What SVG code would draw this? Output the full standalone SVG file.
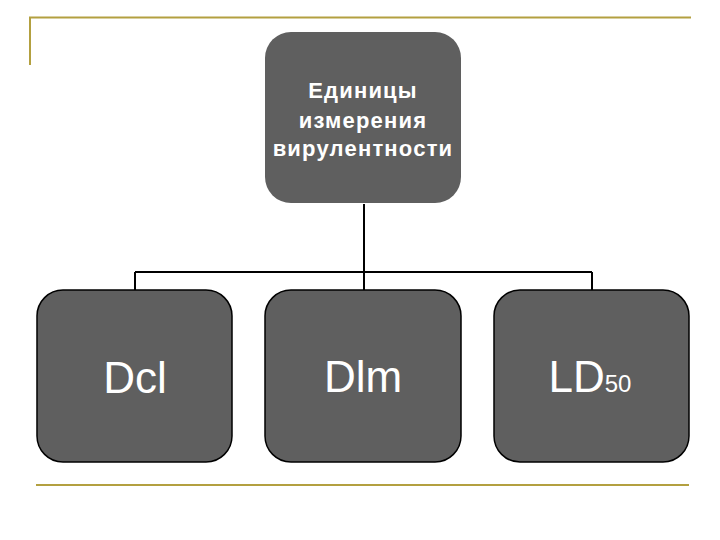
<svg xmlns="http://www.w3.org/2000/svg" width="720" height="540" viewBox="0 0 720 540">
<style>
.deco{stroke:#b3a040;stroke-width:2;fill:none}
.node{fill:#5f5f5f}
.child{fill:#5f5f5f;stroke:#000;stroke-width:1.5}
.conn{stroke:#000;stroke-width:2;fill:none}
.t{font-family:"Liberation Sans",Arial,sans-serif;fill:#fff;text-anchor:middle}
.tb{font-size:22px;font-weight:bold;letter-spacing:1.2px}
.big{font-size:44px}
</style>
<rect width="720" height="540" fill="#fff"/>
<g id="decor">
<path class="deco" d="M30 65 V17.5 H691"/>
<path class="deco" d="M36 485 H689" stroke="#b8a060"/>
</g>
<g id="connectors">
<path class="conn" d="M364 204 V272 M135 272 H592 M135 272 V290 M364 272 V290 M592 272 V290"/>
</g>
<g id="root">
<rect class="node" x="265" y="32" width="196" height="171" rx="26"/>
<text class="t tb" x="363" y="98">Единицы</text>
<text class="t tb" x="363" y="128">измерения</text>
<text class="t tb" x="363" y="156">вирулентности</text>
</g>
<g id="dcl">
<rect class="child" x="37" y="290" width="195" height="172" rx="26"/>
<text class="t big" x="135" y="393">Dcl</text>
</g>
<g id="dlm">
<rect class="child" x="265" y="290" width="196" height="172" rx="26"/>
<text class="t big" x="363" y="392">Dlm</text>
</g>
<g id="ld50">
<rect class="child" x="494" y="290" width="195" height="172" rx="26"/>
<text class="t big" x="590" y="392">LD<tspan font-size="24">50</tspan></text>
</g>
</svg>
